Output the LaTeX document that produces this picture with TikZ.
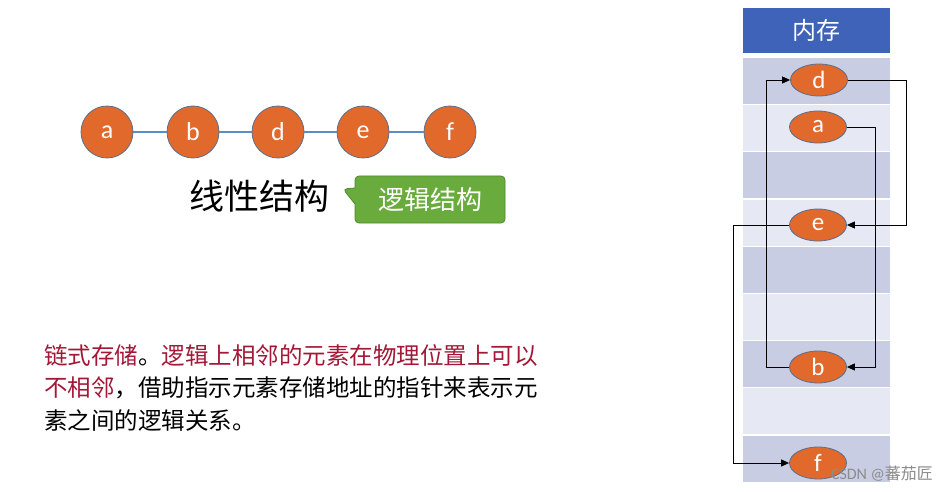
\documentclass[tikz,border=0pt]{standalone}
\usepackage{fontspec}
\setmainfont{Carlito}
\newfontfamily\cjk{Noto Sans CJK SC}
\usetikzlibrary{shapes.geometric,shapes.callouts,arrows.meta}
\definecolor{orangefill}{HTML}{E2692C}
\definecolor{nodeborder}{HTML}{5A6E8C}
\definecolor{linkblue}{HTML}{5B8DC4}
\definecolor{headblue}{HTML}{3F63B8}
\definecolor{rowdark}{HTML}{C8CDE3}
\definecolor{rowlight}{HTML}{E6E8F3}
\definecolor{calloutgreen}{HTML}{6AAB3E}
\definecolor{calloutborder}{HTML}{4F8A2C}
\definecolor{darkred}{HTML}{A31836}
\begin{document}
\begin{tikzpicture}[x=1pt,y=-1pt,
  circ/.style={circle, fill=orangefill, draw=nodeborder, line width=0.8pt,
    minimum size=52pt, inner sep=0pt, text=white, font=\fontsize{26}{26}\selectfont},
  mem/.style={ellipse, fill=orangefill, draw=nodeborder, line width=0.8pt,
    minimum width=57pt, minimum height=32pt, inner sep=0pt, text=white,
    font=\fontsize{25}{25}\selectfont},
  link/.style={draw=linkblue, line width=1.6pt},
  ptr/.style={draw=black, line width=0.9pt, -{Triangle[length=8pt,width=7pt]}},
  para/.style={anchor=base west, inner sep=0pt, font=\cjk\fontsize{23.5}{32}\selectfont}
]
\path[use as bounding box, fill=white] (0,0) rectangle (948,492);

% memory column
\fill[headblue] (743,8) rectangle (890,53);
\node[text=white, font=\cjk\fontsize{24}{24}\selectfont] (head) at (816.5,30.5) {内存};
\foreach \i in {0,...,8}{
  \ifodd\i
    \fill[rowlight] (743,{58+47.2*\i}) rectangle (890,{58+47.2*(\i+1)-1.2});
  \else
    \fill[rowdark] (743,{58+47.2*\i}) rectangle (890,{58+47.2*(\i+1)-1.2});
  \fi
}
\node[mem] (md) at (819,80) {d};
\node[mem] (ma) at (818,127) {a};
\node[mem] (me) at (818,225) {e};
\node[mem] (mb) at (818,367) {b};
\node[mem] (mf) at (818,463) {f};

\coordinate (xde) at (906,0);
\coordinate (xab) at (875,0);
\coordinate (xbd) at (766,0);
\coordinate (xef) at (733,0);
\draw[ptr] (md.east) -- (md.east -| xde) |- (me.east);
\draw[ptr] (ma.east) -- (ma.east -| xab) |- (mb.east);
\draw[ptr] (mb.west) -- (mb.west -| xbd) |- (md.west);
\draw[ptr] (me.west) -- (me.west -| xef) |- (mf.west);

% linear structure
\node[circ] (la) at (107,132) {a};
\node[circ] (lb) at (193,132) {b};
\node[circ] (ld) at (278,132) {d};
\node[circ] (le) at (363,132) {e};
\node[circ] (lf) at (450,132) {f};
\draw[link] (la) -- (lb);
\draw[link] (lb) -- (ld);
\draw[link] (ld) -- (le);
\draw[link] (le) -- (lf);

\node[font=\cjk\fontsize{35}{35}\selectfont, inner sep=0pt] (lin) at (259,196) {线性结构};
\node[rectangle callout, callout absolute pointer={(343,189)}, callout pointer width=16pt,
  fill=calloutgreen, draw=calloutborder, line width=0.8pt, rounded corners=4pt,
  minimum width=150pt, minimum height=47pt, text=white,
  font=\cjk\fontsize{26}{26}\selectfont] (logic) at (430,199.5) {逻辑结构};

% paragraph
\node[para] (t1) at (44,364) {\textcolor{darkred}{链式存储}。\textcolor{darkred}{逻辑上相邻的元素在物理位置上可以}};
\node[para] (t2) at (44,396.5) {\textcolor{darkred}{不相邻}，借助指示元素存储地址的指针来表示元};
\node[para] (t3) at (44,429) {素之间的逻辑关系。};

% watermark
\node[text=black!45, font=\fontsize{16}{16}\selectfont, inner sep=0pt] (wm) at (882,474) {CSDN @{\cjk 蕃茄匠}};
\end{tikzpicture}
\end{document}
